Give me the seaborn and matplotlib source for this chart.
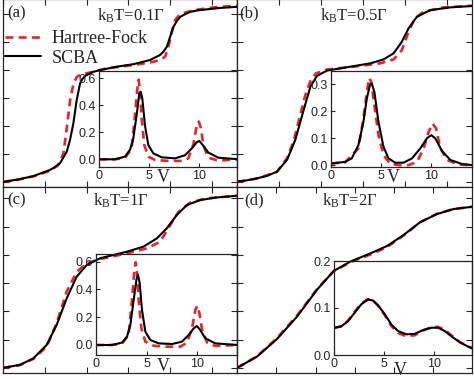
import matplotlib
matplotlib.use("Agg")
import matplotlib.pyplot as plt
from matplotlib.ticker import FormatStrFormatter, MultipleLocator
import seaborn as sns

# ---- main curves (current vs V) ----
a_v_hf = [0, 0.9, 1.82, 2.81, 3.3, 3.61, 3.81, 4.01, 4.21, 4.41, 4.61, 5.41, 6.2, 7.8, 8.8, 9.4, 9.7, 9.9, 10.1, 10.3, 10.6, 11.4, 12.6, 14.0]
a_i_hf = [0.0, 0.08, 0.2, 0.4, 0.6, 1.0, 1.9, 2.9, 3.5, 3.75, 3.83, 3.94, 4.06, 4.18, 4.27, 4.36, 4.48, 4.83, 5.37, 5.79, 6.0, 6.14, 6.24, 6.3]
a_v_sc = [0, 0.9, 1.82, 2.81, 3.1, 3.41, 3.81, 4.01, 4.21, 4.41, 4.61, 4.75, 4.91, 5.41, 5.81, 6.81, 7.8, 8.8, 9.4, 9.6, 9.8, 10.0, 10.2, 10.4, 10.6, 10.9, 11.2, 11.6, 12.2, 13.0, 14.0]
a_i_sc = [0.0, 0.09, 0.21, 0.43, 0.53, 0.67, 1.08, 1.5, 2.1, 2.93, 3.52, 3.68, 3.79, 3.94, 4.0, 4.12, 4.21, 4.36, 4.54, 4.66, 4.83, 5.19, 5.55, 5.75, 5.9, 6.0, 6.08, 6.13, 6.17, 6.22, 6.26]

b_v_hf = [0, 1.19, 2.38, 2.98, 3.37, 3.77, 4.07, 4.37, 4.7, 5.36, 6.94, 8.53, 9.33, 9.82, 10.22, 10.6, 11.1, 12.3, 14.0]
b_i_hf = [0.0, 0.12, 0.36, 0.85, 1.45, 2.4, 3.1, 3.6, 3.88, 4.02, 4.12, 4.24, 4.38, 4.71, 5.37, 5.85, 6.08, 6.24, 6.3]
b_v_sc = [0, 0.6, 1.19, 1.8, 2.38, 2.98, 3.47, 3.97, 4.37, 4.76, 5.36, 6.35, 7.94, 8.73, 9.33, 9.82, 10.22, 10.71, 11.5, 12.7, 14.0]
b_i_sc = [0.01, 0.06, 0.13, 0.22, 0.37, 0.79, 1.5, 2.57, 3.4, 3.79, 3.98, 4.08, 4.24, 4.38, 4.6, 5.01, 5.49, 5.9, 6.14, 6.24, 6.29]

c_v_hf = [0, 1.02, 1.82, 2.61, 3.21, 3.81, 4.41, 5.01, 5.81, 7.41, 8.6, 9.4, 10.0, 10.5, 11.2, 12.2, 14.0]
c_i_hf = [0.0, 0.1, 0.32, 0.75, 1.58, 2.7, 3.4, 3.7, 3.85, 4.05, 4.23, 4.46, 5.05, 5.52, 5.85, 6.0, 6.09]
c_v_sc = [0, 1.02, 1.82, 2.61, 3.21, 3.81, 4.41, 5.01, 5.81, 7.41, 8.4, 9.2, 9.8, 10.4, 11.0, 11.8, 12.8, 14.0]
c_i_sc = [0.0, 0.11, 0.34, 0.81, 1.52, 2.46, 3.23, 3.64, 3.88, 4.11, 4.29, 4.58, 4.94, 5.41, 5.76, 5.94, 6.03, 6.09]

d_v_hf = [0, 1.19, 2.38, 3.57, 4.76, 5.76, 6.75, 7.94, 8.93, 9.92, 10.9, 11.9, 12.9, 14.0]
d_i_hf = [0.0, 0.41, 1.05, 1.85, 2.78, 3.42, 3.74, 4.01, 4.27, 4.68, 5.15, 5.45, 5.62, 5.7]
d_v_sc = [0, 1.19, 2.38, 3.57, 4.76, 5.76, 6.75, 7.94, 8.93, 9.92, 10.9, 11.9, 12.9, 14.0]
d_i_sc = [0.0, 0.4, 1.02, 1.81, 2.76, 3.43, 3.76, 4.05, 4.31, 4.7, 5.15, 5.44, 5.62, 5.7]

# ---- inset curves (dI/dV vs V) ----
ai_v_hf = [0, 1.6, 2.6, 3.27, 3.6, 3.87, 3.97, 4.1, 4.27, 4.53, 4.93, 5.6, 6.93, 8.27, 8.93, 9.43, 9.77, 9.97, 10.2, 10.43, 10.93, 11.93, 14.0]
ai_g_hf = [0.0, 0.0, 0.01, 0.08, 0.33, 0.55, 0.59, 0.5, 0.3, 0.106, 0.02, -0.005, -0.012, -0.012, 0.007, 0.106, 0.25, 0.28, 0.23, 0.106, 0.012, -0.01, 0.0]
ai_v_sc = [0, 1.6, 2.6, 3.1, 3.43, 3.77, 4.03, 4.17, 4.33, 4.6, 4.93, 5.43, 6.27, 7.6, 8.6, 9.27, 9.77, 10.03, 10.33, 10.93, 11.93, 14.0]
ai_g_sc = [0.0, 0.0, 0.02, 0.07, 0.155, 0.33, 0.49, 0.5, 0.45, 0.25, 0.106, 0.044, 0.015, 0.007, 0.03, 0.08, 0.126, 0.136, 0.11, 0.05, 0.012, 0.0]

bi_v_hf = [0, 1.4, 2.73, 3.23, 3.57, 3.8, 4.0, 4.33, 4.73, 5.23, 5.9, 6.73, 7.73, 8.57, 9.23, 9.73, 10.13, 10.47, 10.9, 11.57, 12.73, 14.07]
bi_g_hf = [0.006, 0.01, 0.062, 0.173, 0.27, 0.323, 0.31, 0.22, 0.111, 0.037, 0.005, 0.0, 0.0, 0.012, 0.062, 0.123, 0.154, 0.136, 0.062, 0.019, 0.002, 0.0]
bi_v_sc = [0, 1.4, 2.07, 2.73, 3.23, 3.57, 3.9, 4.07, 4.33, 4.73, 5.23, 5.73, 6.4, 7.23, 8.07, 8.9, 9.57, 10.0, 10.4, 11.07, 11.9, 13.07, 14.07]
bi_g_sc = [0.006, 0.012, 0.025, 0.074, 0.16, 0.247, 0.3, 0.302, 0.27, 0.16, 0.068, 0.025, 0.009, 0.009, 0.025, 0.062, 0.1, 0.111, 0.099, 0.052, 0.019, 0.004, 0.0]

ci_v_hf = [0, 1.58, 2.57, 3.23, 3.56, 3.8, 3.93, 4.06, 4.22, 4.49, 4.88, 5.7, 6.86, 8.35, 9.0, 9.5, 9.83, 10.03, 10.23, 10.5, 11.0, 11.8, 14.0]
ci_g_hf = [0.0, 0.0, 0.01, 0.072, 0.325, 0.54, 0.595, 0.518, 0.325, 0.12, 0.024, -0.005, -0.012, -0.012, 0.017, 0.12, 0.253, 0.282, 0.229, 0.108, 0.017, -0.007, 0.0]
ci_v_sc = [0, 1.58, 2.57, 3.07, 3.4, 3.73, 4.0, 4.16, 4.32, 4.55, 4.88, 5.38, 6.2, 7.52, 8.5, 9.17, 9.67, 9.97, 10.26, 10.82, 11.8, 14.0]
ci_g_sc = [0.0, 0.0, 0.017, 0.06, 0.145, 0.325, 0.47, 0.506, 0.446, 0.253, 0.096, 0.036, 0.012, 0.007, 0.024, 0.072, 0.12, 0.137, 0.113, 0.048, 0.012, 0.0]

di_v_hf = [0, 0.73, 1.4, 2.07, 2.73, 3.4, 3.9, 4.4, 5.07, 5.73, 6.4, 7.23, 8.07, 8.9, 9.73, 10.4, 11.07, 11.73, 12.57, 13.4, 13.9]
di_g_hf = [0.057, 0.061, 0.073, 0.092, 0.11, 0.119, 0.116, 0.105, 0.085, 0.062, 0.047, 0.04, 0.042, 0.052, 0.059, 0.06, 0.054, 0.042, 0.028, 0.018, 0.014]
di_v_sc = [0, 0.73, 1.4, 2.07, 2.73, 3.4, 3.9, 4.4, 5.07, 5.73, 6.4, 7.23, 8.07, 8.9, 9.73, 10.4, 11.07, 11.73, 12.57, 13.4, 13.9]
di_g_sc = [0.058, 0.061, 0.072, 0.09, 0.108, 0.118, 0.116, 0.106, 0.087, 0.065, 0.051, 0.044, 0.045, 0.053, 0.058, 0.058, 0.051, 0.04, 0.027, 0.018, 0.014]

temps = ["k$_\\mathrm{B}$T=0.1Γ", "k$_\\mathrm{B}$T=0.5Γ", "k$_\\mathrm{B}$T=1Γ", "k$_\\mathrm{B}$T=2Γ"]
tags = ["(a)", "(b)", "(c)", "(d)"]

sns.set_style("ticks")
plt.rcParams["font.family"] = ["Liberation Serif", "DejaVu Serif"]
plt.rcParams["mathtext.fontset"] = "custom"
plt.rcParams["mathtext.rm"] = "Liberation Serif"
plt.rcParams["mathtext.it"] = "Liberation Serif:italic"
plt.rcParams["axes.linewidth"] = 0.9

W, H = 474, 379
fig = plt.figure(figsize=(W / 100, H / 100), dpi=100)


def px_axes(left, top, right, bottom, **kw):
    return fig.add_axes([left / W, 1 - bottom / H, (right - left) / W, (bottom - top) / H], **kw)


RED = "#e8242a"
DASH = (0, (3, 2))

main_boxes = [(3, -1, 237, 187), (237, -1, 472, 187), (3, 187, 237, 373), (237, 187, 472, 373)]
main_ylims = [(-0.18, 6.54), (-0.18, 6.54), (-0.18, 6.4), (-0.18, 6.4)]
main_data = [(a_v_hf, a_i_hf, a_v_sc, a_i_sc), (b_v_hf, b_i_hf, b_v_sc, b_i_sc),
             (c_v_hf, c_i_hf, c_v_sc, c_i_sc), (d_v_hf, d_i_hf, d_v_sc, d_i_sc)]
xstep = [2.5, 2.5, 2.5, 2.34]
tag_pos = [(0.02, 0.925), (0.01, 0.925), (0.02, 0.93), (0.03, 0.93)]
temp_pos = [(0.40, 0.883), (0.353, 0.883), (0.385, 0.9), (0.362, 0.9)]

mains = []
for k in range(4):
    ax = px_axes(*main_boxes[k])
    vh, ih, vs, is_ = main_data[k]
    sns.lineplot(x=vh, y=ih, ax=ax, color=RED, lw=1.9, ls=DASH, errorbar=None)
    sns.lineplot(x=vs, y=is_, ax=ax, color="black", lw=1.5, errorbar=None)
    ax.set_xlim(0, 14)
    ax.set_ylim(*main_ylims[k])
    ax.xaxis.set_major_locator(MultipleLocator(xstep[k]))
    ax.yaxis.set_major_locator(MultipleLocator(1))
    ax.tick_params(which="both", direction="in", top=True, right=True, length=4, width=0.8,
                   labelbottom=False, labelleft=False)
    ax.set_xlabel("")
    ax.set_ylabel("")
    ax.text(*tag_pos[k], tags[k], transform=ax.transAxes, ha="left", va="center", fontsize=12)
    ax.text(*temp_pos[k], temps[k], transform=ax.transAxes, ha="left", va="baseline", fontsize=12)
    mains.append(ax)

leg = mains[0].legend(handles=mains[0].lines[:2], labels=["Hartree-Fock", "SCBA"],
                      loc="upper left", bbox_to_anchor=(0.008, 0.835), frameon=False,
                      fontsize=13, handlelength=2.0, handletextpad=0.6,
                      borderaxespad=0, borderpad=0, labelspacing=0.15)

# ---- insets ----
inset_boxes = [(99, 71, 237, 167), (331, 71, 472, 167), (96, 254, 237, 355), (334, 261, 472, 355)]
inset_xmax = [13.8, 14.05, 13.95, 13.8]
inset_ylims = [(-0.057, 0.654), (-0.007, 0.349), (-0.072, 0.655), (0.0, 0.2)]
inset_ystep = [0.2, 0.1, 0.2, 0.1]
inset_data = [(ai_v_hf, ai_g_hf, ai_v_sc, ai_g_sc), (bi_v_hf, bi_g_hf, bi_v_sc, bi_g_sc),
              (ci_v_hf, ci_g_hf, ci_v_sc, ci_g_sc), (di_v_hf, di_g_hf, di_v_sc, di_g_sc)]
v_pos = [(0.464, -0.11), (0.44, -0.11), (0.475, -0.11), (0.478, -0.17)]

for k in range(4):
    ax = px_axes(*inset_boxes[k])
    ax.set_facecolor("none")
    vh, gh, vs, gs = inset_data[k]
    sns.lineplot(x=vh, y=gh, ax=ax, color=RED, lw=1.9, ls=DASH, errorbar=None)
    sns.lineplot(x=vs, y=gs, ax=ax, color="black", lw=1.5, errorbar=None)
    ax.set_xlim(0, inset_xmax[k])
    ax.set_ylim(*inset_ylims[k])
    ax.set_xticks([0, 5, 10])
    ax.yaxis.set_major_locator(MultipleLocator(inset_ystep[k]))
    ax.yaxis.set_major_formatter(FormatStrFormatter("%.1f"))
    ax.tick_params(direction="in", length=3, width=0.8, labelsize=9, pad=2)
    for lbl in ax.get_xticklabels() + ax.get_yticklabels():
        lbl.set_family(["Liberation Sans", "DejaVu Sans"])
    ax.set_xlabel("")
    ax.set_ylabel("")
    ax.text(*v_pos[k], "V", transform=ax.transAxes, ha="center", va="center", fontsize=13)

fig.savefig("out.png", dpi=100)
